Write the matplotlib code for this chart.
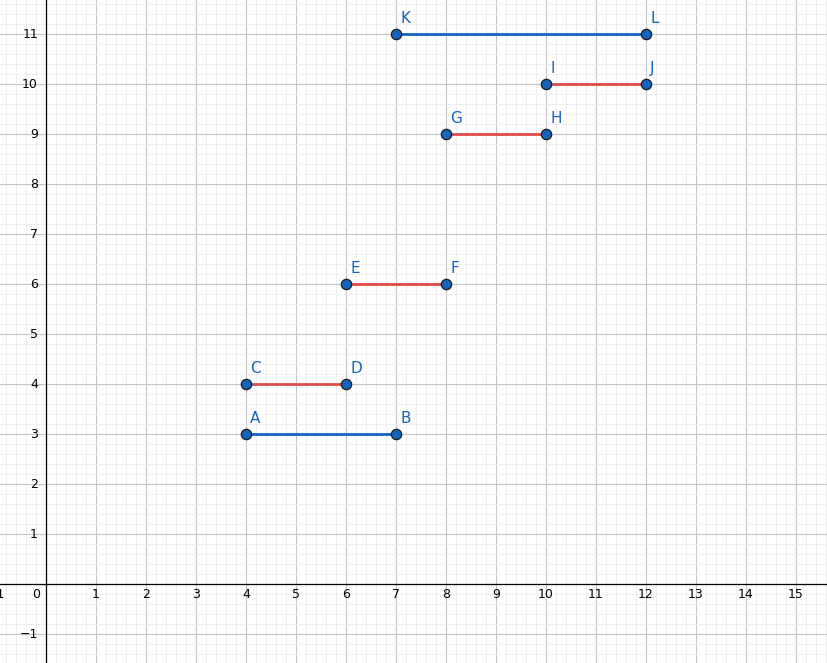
import matplotlib
matplotlib.use("Agg")
import matplotlib.pyplot as plt
import numpy as np

# segment endpoints: (label, x, y)
blue_pts = [("A", 4, 3), ("B", 7, 3), ("K", 7, 11), ("L", 12, 11)]
red_pts = [("C", 4, 4), ("D", 6, 4), ("E", 6, 6), ("F", 8, 6),
           ("G", 8, 9), ("H", 10, 9), ("I", 10, 10), ("J", 12, 10)]
x_ticks = list(range(-1, 16))
y_ticks = list(range(-1, 12))

BLUE = "#1565c0"
RED = "#e04b4b"

fig = plt.figure(figsize=(8.27, 6.63), dpi=100)
ax = fig.add_axes([0, 0, 1, 1])
x0, x1 = -0.92, 15.62
y0, y1 = -1.58, 11.68
ax.set_xlim(x0, x1)
ax.set_ylim(y0, y1)
ax.axis("off")

# grid
for v in np.arange(-1, 16.01, 0.2):
    major = abs(v - round(v)) < 1e-6
    ax.axvline(v, color="#c4c4c4" if major else "#ececec",
               lw=0.8 if major else 0.6, zorder=0)
for v in np.arange(-2, 12.01, 0.2):
    major = abs(v - round(v)) < 1e-6
    ax.axhline(v, color="#c4c4c4" if major else "#ececec",
               lw=0.8 if major else 0.6, zorder=0)
ax.axhline(0, color="black", lw=0.9, zorder=1)
ax.axvline(0, color="black", lw=0.9, zorder=1)

for t in x_ticks:
    if t == 0:
        ax.text(-0.12, -0.22, "0", ha="right", va="center", fontsize=9)
    else:
        ax.text(t, -0.22, str(t).replace("-", "\u2212"), ha="center", va="center", fontsize=9)
for t in y_ticks:
    if t == 0:
        continue
    ax.text(-0.16, t, str(t).replace("-", "\u2212"), ha="right", va="center", fontsize=9)


def draw(pts, color):
    for (_, xa, ya), (_, xb, yb) in zip(pts[0::2], pts[1::2]):
        ax.plot([xa, xb], [ya, yb], color=color, lw=2, zorder=2)
    for name, x, y in pts:
        ax.scatter([x], [y], s=55, color=BLUE, edgecolor="#1a1a1a", lw=0.9, zorder=3)
        ax.text(x + 0.08, y + 0.22, name, color=BLUE, fontsize=11, zorder=4)


draw(blue_pts, BLUE)
draw(red_pts, RED)

fig.savefig("out.png", dpi=100)
